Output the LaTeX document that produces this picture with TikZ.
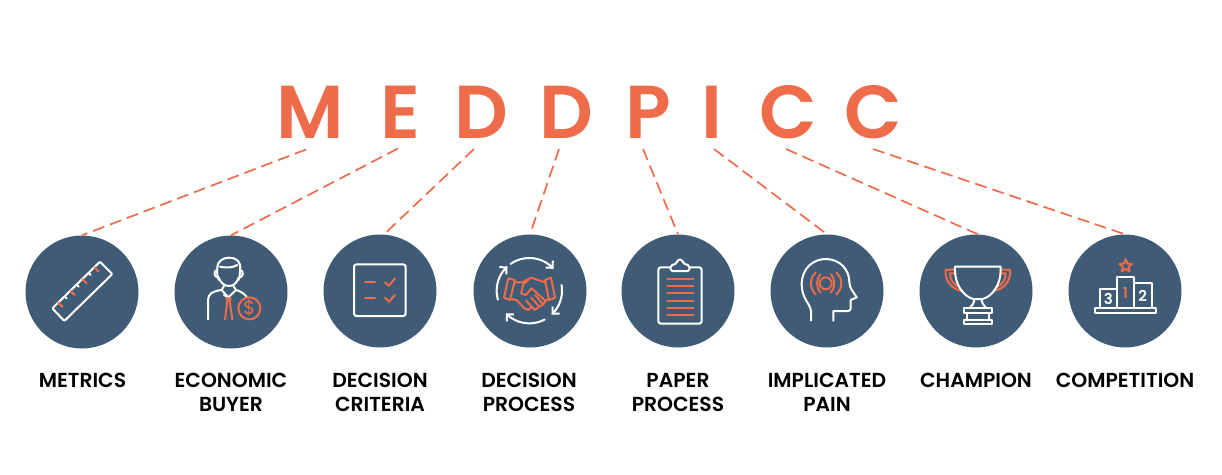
\documentclass[tikz,border=0pt]{standalone}
\usepackage{fontspec}
\setmainfont{Poppins}[BoldFont={Poppins SemiBold}]
\usetikzlibrary{arrows.meta}
\definecolor{navy}{HTML}{3F5B75}
\definecolor{coral}{HTML}{EF6C4B}
\tikzset{
  letter/.style={font=\fontsize{75}{75}\selectfont\bfseries,text=coral,inner sep=0pt,anchor=center},
  disc/.style={circle,fill=navy,minimum size=113pt,inner sep=0pt},
  lab/.style={font=\fontsize{20.3}{24}\selectfont\bfseries,text=black,align=center,inner sep=0pt},
  dashline/.style={draw=coral,line width=1.7pt,dash pattern=on 12pt off 6pt},
  icw/.style={draw=white,line width=2pt,line join=round,line cap=round},
  ico/.style={draw=coral,line width=2pt,line join=round,line cap=round},
  zoomed/.style={x=0.33333pt,y=-0.33333pt},
  digit/.style={font=\fontsize{15}{15}\selectfont\bfseries,inner sep=0pt},
  barb/.style={-{Straight Barb[length=5pt,width=10pt]}}
}
\begin{document}
\begin{tikzpicture}[x=1pt,y=-1pt]
\useasboundingbox (0,0) rectangle (1222,474);
\fill[white] (0,0) rectangle (1222,474);
% letters
\node[letter] (l1) at (310,112) {M};
\node[letter] (l2) at (400,112) {E};
\node[letter] (l3) at (481,112) {D};
\node[letter] (l4) at (566,112) {D};
\node[letter] (l5) at (648,112) {P};
\node[letter] (l6) at (712,112) {I};
\node[letter] (l7) at (788,112) {C};
\node[letter] (l8) at (873,112) {C};
% discs
\node[disc] (c1) at (82,292) {};
\node[disc] (c2) at (231,292) {};
\node[disc] (c3) at (380,291) {};
\node[disc] (c4) at (530,291) {};
\node[disc] (c5) at (678,291) {};
\node[disc] (c6) at (827,291) {};
\node[disc] (c7) at (976,291) {};
\node[disc] (c8) at (1125,291) {};
% connector starts
\coordinate (a1) at (306,149.5);
\coordinate (a2) at (398,148.5);
\coordinate (a3) at (474,149);
\coordinate (a4) at (559,149);
\coordinate (a5) at (643,149);
\coordinate (a6) at (714,149);
\coordinate (a7) at (786,149);
\coordinate (a8) at (873,149);
\draw[dashline] (a1) -- (c1.north);
\draw[dashline] (a2) -- (c2.north);
\draw[dashline] (a3) -- (c3.86);
\draw[dashline] (a4) -- (c4.north);
\draw[dashline] (a5) -- (c5.north);
\draw[dashline] (a6) -- (c6.north);
\draw[dashline] (a7) -- (c7.88);
\draw[dashline] (a8) -- (c8.north);
% labels
\node[lab] (t1) at (82.5,380) {METRICS};
\node[lab] (t2) at (231,392) {ECONOMIC\\BUYER};
\node[lab] (t3) at (380,392) {DECISION\\CRITERIA};
\node[lab] (t4) at (529,392) {DECISION\\PROCESS};
\node[lab] (t5) at (678,392) {PAPER\\PROCESS};
\node[lab] (t6) at (827,392) {IMPLICATED\\PAIN};
\node[lab] (t7) at (976,380) {CHAMPION};
\node[lab] (t8) at (1125,380) {COMPETITION};
% ruler
\begin{scope}[shift={(20,225)},zoomed]
\draw[icw,rounded corners=1pt] (240,110) -- (277,147) -- (133,288) -- (97,250) -- cycle;
\draw[ico] (115,233) -- (127,245) (152,198) -- (164,210) (188,163) -- (200,175) (224,128) -- (236,140);
\draw[icw] (134,214) -- (140,220) (170,179) -- (176,185) (206,144) -- (212,150);
% person
\draw[icw] (596,165) .. controls (592,150) and (590,140) .. (592,132) .. controls (590,108) and (610,98) .. (628,98) .. controls (648,98) and (665,110) .. (660,135) .. controls (660,150) and (658,160) .. (656,165);
\draw[icw] (592,135) .. controls (580,135) and (580,158) .. (596,158);
\draw[icw] (660,135) .. controls (672,135) and (672,158) .. (656,158);
\draw[icw] (600,125) .. controls (615,130) and (640,128) .. (652,120);
\draw[icw] (596,158) .. controls (602,175) and (615,183) .. (627,183) .. controls (640,183) and (650,175) .. (656,158);
\draw[icw] (564,283) -- (564,225) .. controls (564,205) and (580,198) .. (605,195) -- (625,217) -- (648,195) .. controls (660,198) and (672,205) .. (680,215);
\draw[icw] (612,183) -- (605,195) (640,183) -- (648,195);
\draw[icw] (625,217) -- (612,210);
\draw[ico] (619,220) -- (632,220) -- (629,228) -- (637,283) (619,220) -- (622,228) -- (615,283) (622,228) -- (629,228);
\draw[ico] (688,250) circle [radius=33];
\node[digit,text=coral,font=\fontsize{19}{19}\selectfont] (dollar) at (688,250) {\$};
\end{scope}
% checklist, handshake
\begin{scope}[shift={(315,225)},zoomed]
\draw[icw,rounded corners=2.5pt] (117,118) rectangle (272,273);
\draw[ico] (150,170) -- (180,170) (150,220) -- (180,220);
\draw[ico] (210,172) -- (222,182) -- (240,160) (210,218) -- (222,230) -- (240,210);
\draw[icw,barb] plot[smooth,domain=-125:-42,samples=16] ({643+98*cos(\x)},{197+98*sin(\x)});
\draw[icw,barb] plot[smooth,domain=-10:47,samples=16] ({643+98*cos(\x)},{197+98*sin(\x)});
\draw[icw,barb] plot[smooth,domain=62:136,samples=16] ({643+98*cos(\x)},{197+98*sin(\x)});
\draw[icw,barb] plot[smooth,domain=164:228,samples=16] ({643+98*cos(\x)},{197+98*sin(\x)});
\draw[ico] (580,160) -- (600,165) -- (585,225) -- (567,218) -- cycle;
\draw[ico] (690,165) -- (708,158) -- (720,218) -- (702,225) -- cycle;
\draw[ico] (597,172) -- (622,172) -- (648,158) -- (690,172);
\draw[ico] (590,222) -- (606,226) -- (628,250) -- (640,255) -- (650,245) -- (660,255) -- (672,245) -- (683,240) -- (692,228) -- (702,220);
\draw[ico] (642,163) -- (625,178) -- (618,205) -- (632,210) -- (650,190) -- (692,228);
\draw[ico] (633,226) -- (650,245) (648,218) -- (672,243) (660,210) -- (683,236);
\end{scope}
% clipboard, head
\begin{scope}[shift={(615,225)},zoomed]
\draw[icw,rounded corners=2.5pt] (130,127) rectangle (260,296);
\draw[icw,fill=navy,rounded corners=1.5pt] (167,138) -- (167,122) -- (185,115) -- (188,104) -- (201,104) -- (205,115) -- (223,122) -- (223,138) -- cycle;
\foreach \yy in {161,183,205,227,248,270} \draw[ico] (157,\yy) -- (235,\yy);
\draw[icw] (588,287) -- (588,258) .. controls (585,235) and (560,220) .. (560,178) .. controls (560,130) and (595,102) .. (632,102) .. controls (675,102) and (703,135) .. (703,170) .. controls (703,190) and (715,200) .. (725,217) -- (707,225) -- (707,250) .. controls (707,256) and (703,258) .. (698,258) -- (655,258) -- (655,287);
\draw[ico] (632,175) circle [radius=18];
\draw[ico] (616,148) .. controls (603,160) and (603,190) .. (616,202);
\draw[ico] (602,143) .. controls (583,160) and (583,190) .. (602,208);
\draw[ico] (648,148) .. controls (661,160) and (661,190) .. (648,202);
\draw[ico] (664,143) .. controls (684,160) and (684,190) .. (664,208);
\end{scope}
% trophy, podium
\begin{scope}[shift={(910,225)},zoomed]
\draw[ico] (135,133) -- (107,135) .. controls (103,165) and (125,192) .. (152,197);
\draw[ico] (138,145) -- (120,145) .. controls (120,165) and (130,178) .. (146,186);
\draw[ico] (272,133) -- (300,135) .. controls (304,165) and (282,192) .. (255,197);
\draw[ico] (269,145) -- (287,145) .. controls (287,165) and (277,178) .. (261,186);
\draw[icw] (135,125) -- (272,125) .. controls (275,180) and (245,215) .. (218,222) -- (190,222) .. controls (162,215) and (132,180) .. (135,125) -- cycle;
\draw[icw] (193,223) .. controls (193,235) and (185,243) .. (178,250) (215,223) .. controls (215,235) and (222,243) .. (230,250);
\draw[icw] (162,250) rectangle (245,263);
\draw[icw] (170,263) -- (170,285) (237,263) -- (237,285);
\draw[icw] (162,285) rectangle (245,297);
\draw[ico] (647,103) -- (652.3,115.7) -- (666,116.8) -- (655.6,125.8) -- (658.8,139.2) -- (647,132) -- (635.2,139.2) -- (638.4,125.8) -- (628,116.8) -- (641.7,115.7) -- cycle;
\draw[icw] (555,249) rectangle (738,263);
\draw[icw] (570,249) -- (570,192) -- (620,192);
\draw[icw] (620,249) -- (620,157) -- (672,157) -- (672,249);
\draw[icw] (672,175) -- (725,175) -- (725,249);
\node[digit,text=white] (n3) at (595,222) {3};
\node[digit,text=coral] (n1) at (646,204) {1};
\node[digit,text=white] (n2) at (698,212) {2};
\end{scope}
\end{tikzpicture}
\end{document}
